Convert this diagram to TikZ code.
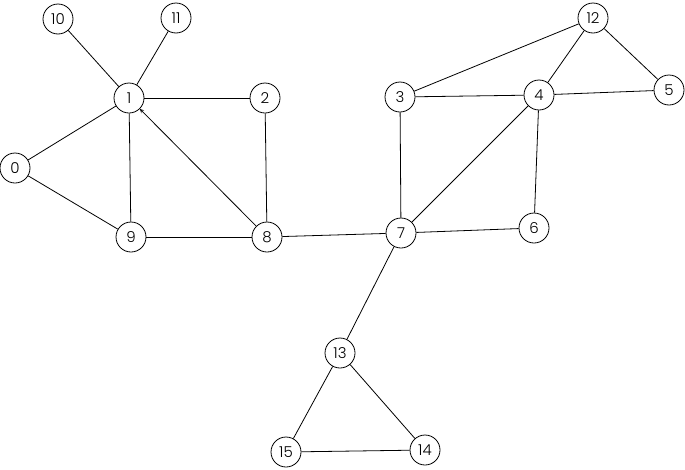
\documentclass[tikz,border=0pt]{standalone}
\usepackage{fontspec}
\setmainfont{Poppins Light}
\begin{document}
\begin{tikzpicture}[x=1pt, y=-1pt, every node/.style={font=\fontsize{15}{15}\selectfont}]
        \tikzstyle{vert} = [draw, circle, line width=0.8pt, minimum size=30pt, inner sep=0pt, fill=white]
        \tikzstyle{edge} = [line width=0.8pt]
        \useasboundingbox (0,0) rectangle (685,469);
        \node[vert] (N0) at (15, 168) {0};
        \node[vert] (N1) at (129, 98) {1};
        \node[vert] (N2) at (265, 98) {2};
        \node[vert] (N3) at (400, 97) {3};
        \node[vert] (N4) at (539, 95) {4};
        \node[vert] (N5) at (669, 90) {5};
        \node[vert] (N6) at (534, 228) {6};
        \node[vert] (N7) at (401, 233) {7};
        \node[vert] (N8) at (267, 237) {8};
        \node[vert] (N9) at (131, 237) {9};
        \node[vert] (N10) at (58, 19) {10};
        \node[vert] (N11) at (176, 18) {11};
        \node[vert] (N12) at (593, 18) {12};
        \node[vert] (N13) at (340, 353) {13};
        \node[vert] (N14) at (425, 450) {14};
        \node[vert] (N15) at (286, 452) {15};
        \draw[edge] (N10) -- (N1);
        \draw[edge] (N11) -- (N1);
        \draw[edge] (N1) -- (N2);
        \draw[edge] (N0) -- (N1);
        \draw[edge] (N0) -- (N9);
        \draw[edge] (N1) -- (N9);
        \draw[edge, ->, >=stealth] (N8) -- (N1);
        \draw[edge] (N2) -- (N8);
        \draw[edge] (N9) -- (N8);
        \draw[edge] (N8) -- (N7);
        \draw[edge] (N3) -- (N12);
        \draw[edge] (N12) -- (N4);
        \draw[edge] (N12) -- (N5);
        \draw[edge] (N3) -- (N4);
        \draw[edge] (N4) -- (N5);
        \draw[edge] (N3) -- (N7);
        \draw[edge] (N4) -- (N7);
        \draw[edge] (N4) -- (N6);
        \draw[edge] (N7) -- (N6);
        \draw[edge] (N7) -- (N13);
        \draw[edge] (N13) -- (N15);
        \draw[edge] (N13) -- (N14);
        \draw[edge] (N15) -- (N14);
      \end{tikzpicture}
\end{document}
